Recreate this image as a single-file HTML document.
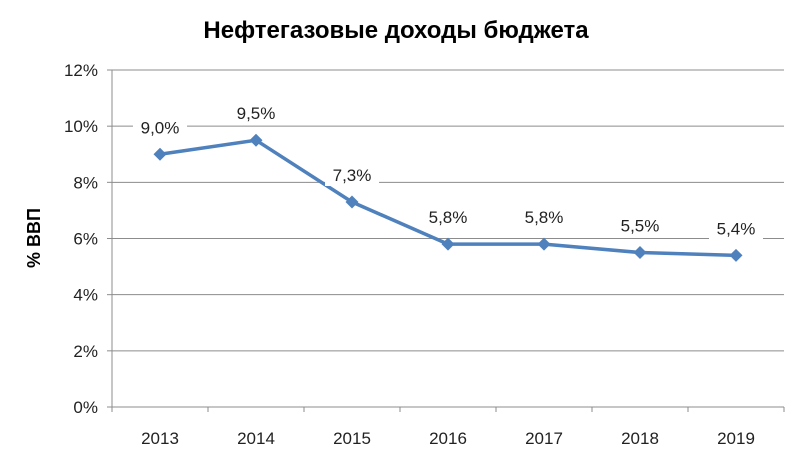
<!DOCTYPE html>
<html><head><meta charset="utf-8"><style>
html,body{margin:0;padding:0;background:#fff;}
svg{display:block;font-family:"Liberation Sans","DejaVu Sans",sans-serif;}
</style></head><body>
<svg id="chart" width="792" height="468" viewBox="0 0 792 468">
<text x="396" y="38" text-anchor="middle" font-size="24" font-weight="bold" fill="#000">Нефтегазовые доходы бюджета</text>
<text transform="translate(40,238) rotate(-90)" text-anchor="middle" font-size="18" font-weight="bold" fill="#000">% ВВП</text>
<g id="grid"></g>
<g id="axes"></g>
<g id="series"></g>
<g id="labels"></g>
</svg>
<script>
const categories = ["2013","2014","2015","2016","2017","2018","2019"];
const values = [9.0, 9.5, 7.3, 5.8, 5.8, 5.5, 5.4];
const valueLabels = ["9,0%","9,5%","7,3%","5,8%","5,8%","5,5%","5,4%"];
const yTicks = [0, 2, 4, 6, 8, 10, 12];
const yTickLabels = ["0%","2%","4%","6%","8%","10%","12%"];

const NS="http://www.w3.org/2000/svg";
const L=112,R=784,T=70,B=407,yMax=12;
const band=(R-L)/categories.length;
const xs=i=>L+band*(i+0.5);
const ys=v=>B-(v/yMax)*(B-T);
function mk(tag,attrs,parent){const e=document.createElementNS(NS,tag);for(const k in attrs)e.setAttribute(k,attrs[k]);parent.appendChild(e);return e;}
const grid=document.getElementById('grid'),axes=document.getElementById('axes'),series=document.getElementById('series'),labels=document.getElementById('labels');

yTicks.forEach((t,i)=>{
  const y=ys(t);
  if(t>0){const g=mk('line',{x1:L,x2:R,y1:y,y2:y,stroke:'#8c8c8c','stroke-width':1},grid);
  
  }
  const tk=mk('line',{x1:L-5,x2:L,y1:y,y2:y,stroke:'#8c8c8c'},axes);
  
  
  const tx=mk('text',{x:L-14,y:y+6,'text-anchor':'end','font-size':17,fill:'#222'},axes);
  tx.textContent=yTickLabels[i];
  
  
});
const ya=mk('line',{x1:L,x2:L,y1:T,y2:B,stroke:'#8c8c8c'},axes);


const xa=mk('line',{x1:L,x2:R,y1:B,y2:B,stroke:'#8c8c8c'},axes);


for(let i=0;i<=categories.length;i++){
  const x=L+band*i;
  const tk=mk('line',{x1:x,x2:x,y1:B,y2:B+5,stroke:'#8c8c8c'},axes);
  
  
}
categories.forEach((c,i)=>{
  const tx=mk('text',{x:xs(i),y:444,'text-anchor':'middle','font-size':17,fill:'#222'},axes);
  tx.textContent=c;
  
  
});
const pts=values.map((v,i)=>xs(i)+','+ys(v)).join(' ');
const pl=mk('polyline',{points:pts,fill:'none',stroke:'#4f81bd','stroke-width':3.5,'stroke-linejoin':'round'},series);


values.forEach((v,i)=>{
  const x=xs(i),y=ys(v),s=6.5;
  const m=mk('polygon',{points:`${x},${y-s} ${x+s},${y} ${x},${y+s} ${x-s},${y}`,fill:'#4f81bd'},series);
  
  
  const w=54,h=22,ly=y-27;
  const bg=mk('rect',{x:x-w/2,y:ly-h/2,width:w,height:h,fill:'#fff'},labels);
  
  
  const tx=mk('text',{x:x,y:ly+6,'text-anchor':'middle','font-size':17,fill:'#222'},labels);
  tx.textContent=valueLabels[i];
  
  
});
</script>
</body></html>
